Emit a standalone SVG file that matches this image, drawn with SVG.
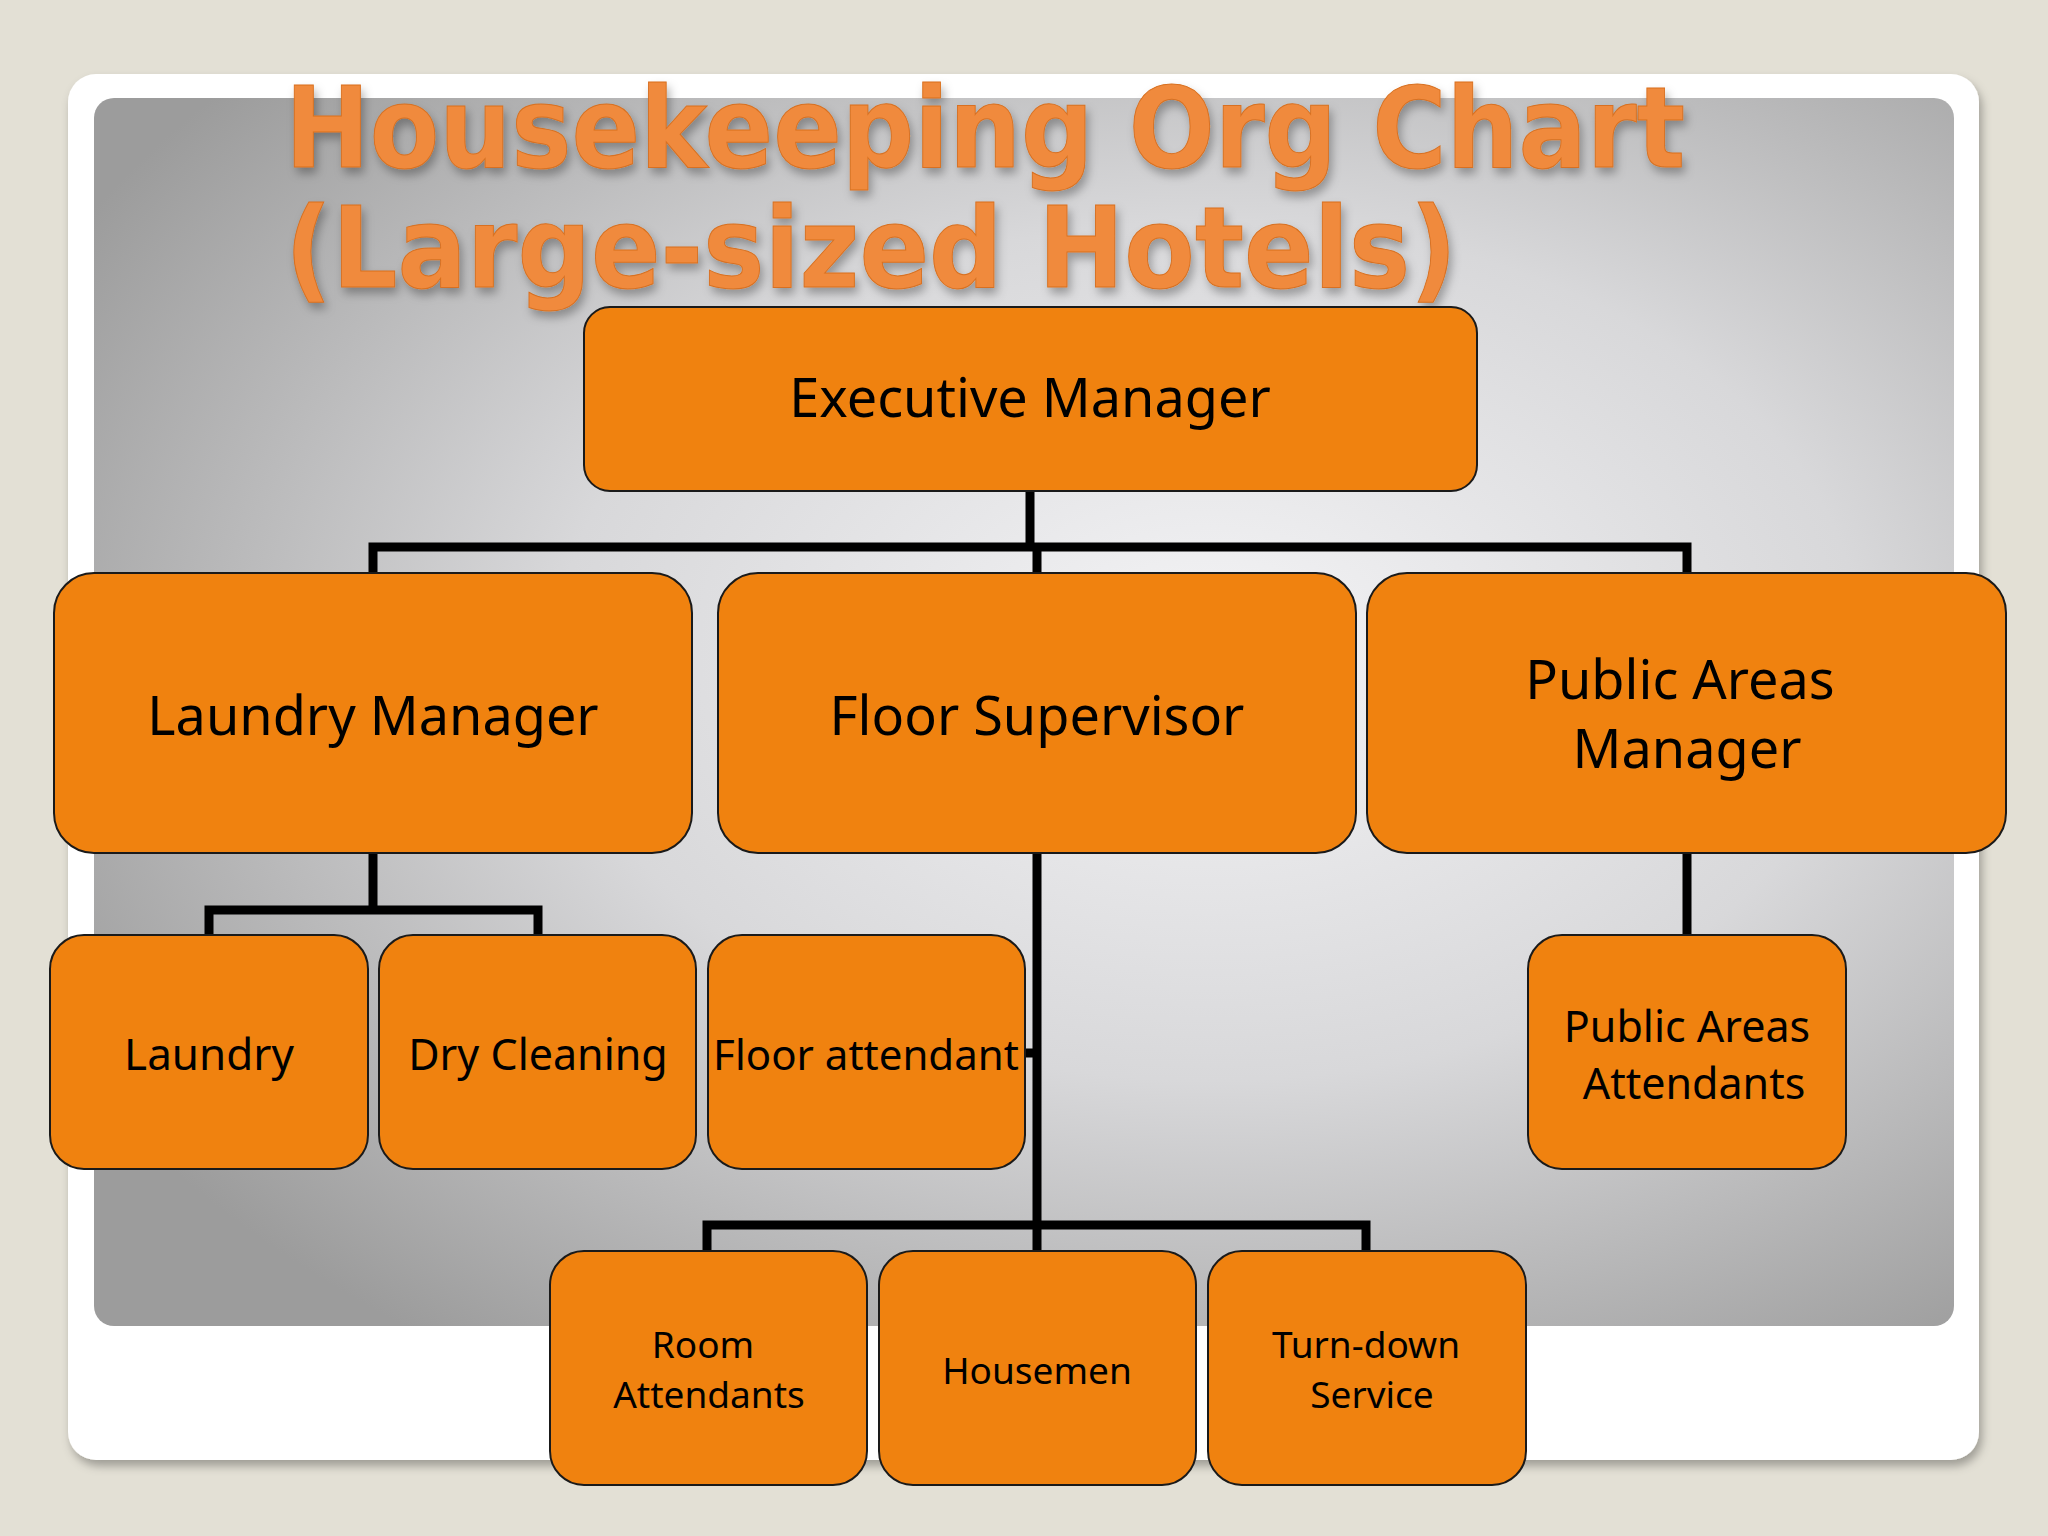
<svg xmlns="http://www.w3.org/2000/svg" width="2048" height="1536" viewBox="0 0 2048 1536">
<defs>
<radialGradient id="bg" cx="0.6" cy="0.45" r="0.7">
<stop offset="0" stop-color="#f4f4f6"/><stop offset="0.5" stop-color="#d8d8da"/><stop offset="1" stop-color="#9c9c9c"/>
</radialGradient>
<filter id="sh" x="-5%" y="-5%" width="110%" height="120%"><feDropShadow dx="3" dy="6" stdDeviation="5" flood-color="#000" flood-opacity="0.3"/></filter>
<style>
.n{fill:#f0820f;stroke:#1a1a1a;stroke-width:2}
.t{font-family:"Noto Sans","DejaVu Sans",sans-serif;fill:#000;text-anchor:middle}
.c{stroke:#000;stroke-width:9;fill:none}
.ti{font-family:"DejaVu Sans",Verdana,sans-serif;font-weight:bold;font-size:112px;fill:#f08a3c;stroke:#d87020;stroke-width:1}
</style>
</defs>
<rect width="2048" height="1536" fill="#e3e0d5"/>
<rect x="68" y="74" width="1911" height="1386" rx="28" fill="#fff" filter="url(#sh)"/>
<rect x="94" y="98" width="1860" height="1228" rx="20" fill="url(#bg)"/>
<g filter="url(#sh)">
<text class="ti" x="285" y="167" textLength="1400" lengthAdjust="spacingAndGlyphs">Housekeeping Org Chart</text>
<text class="ti" x="285" y="287" textLength="1172" lengthAdjust="spacingAndGlyphs">(Large-sized Hotels)</text>
</g>
<g id="connectors">
<path class="c" d="M1030 491V547M373 573V547H1687V573M1037 547V573"/>
<path class="c" d="M373 853V910M209 935V910H538V935"/>
<path class="c" d="M1037 853V1251M707 1251V1225H1366V1251M1025 1053H1037"/>
<path class="c" d="M1687 853V935"/>
</g>
<g id="exec"><rect class="n" x="584" y="307" width="893" height="184" rx="26"/><text class="t" x="1030" y="417" font-size="54">Executive Manager</text></g>
<g id="laundrymgr"><rect class="n" x="54" y="573" width="638" height="280" rx="40"/><text class="t" x="373" y="735" font-size="54">Laundry Manager</text></g>
<g id="floorsup"><rect class="n" x="718" y="573" width="638" height="280" rx="40"/><text class="t" x="1037" y="735" font-size="54">Floor Supervisor</text></g>
<g id="publicmgr"><rect class="n" x="1367" y="573" width="639" height="280" rx="40"/><text class="t" x="1680" y="699" font-size="54">Public Areas</text><text class="t" x="1687" y="768" font-size="54">Manager</text></g>
<g id="laundry"><rect class="n" x="50" y="935" width="318" height="234" rx="34"/><text class="t" x="209" y="1070" font-size="44">Laundry</text></g>
<g id="dry"><rect class="n" x="379" y="935" width="317" height="234" rx="34"/><text class="t" x="538" y="1070" font-size="43">Dry Cleaning</text></g>
<g id="floorattendant"><rect class="n" x="708" y="935" width="317" height="234" rx="34"/><text class="t" x="866" y="1070" font-size="42">Floor attendant</text></g>
<g id="publicatt"><rect class="n" x="1528" y="935" width="318" height="234" rx="34"/><text class="t" x="1687" y="1042" font-size="43">Public Areas</text><text class="t" x="1694" y="1099" font-size="43">Attendants</text></g>
<g id="room"><rect class="n" x="550" y="1251" width="317" height="234" rx="34"/><text class="t" x="703" y="1358" font-size="37">Room</text><text class="t" x="709" y="1408" font-size="37">Attendants</text></g>
<g id="housemen"><rect class="n" x="879" y="1251" width="317" height="234" rx="34"/><text class="t" x="1037" y="1384" font-size="37">Housemen</text></g>
<g id="turndown"><rect class="n" x="1208" y="1251" width="318" height="234" rx="34"/><text class="t" x="1366" y="1358" font-size="37">Turn-down</text><text class="t" x="1372" y="1408" font-size="37">Service</text></g>
</svg>
